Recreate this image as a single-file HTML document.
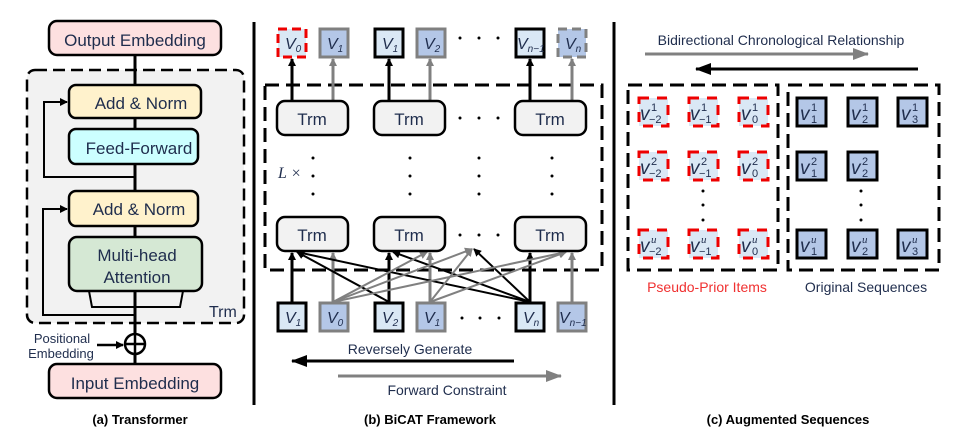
<!DOCTYPE html><html><head><meta charset="utf-8"><style>body{margin:0;background:#fff}svg{display:block}text{font-family:"Liberation Sans",sans-serif}.m{font-family:"Liberation Serif",serif;font-style:italic}</style></head><body>
<svg width="958" height="446" viewBox="0 0 958 446" xmlns="http://www.w3.org/2000/svg">
<defs>
<marker id="ab" markerWidth="8" markerHeight="8" refX="7" refY="4" orient="auto" markerUnits="userSpaceOnUse"><path d="M0,0L8,4L0,8z" fill="#000"/></marker>
<marker id="ag" markerWidth="8" markerHeight="8" refX="7" refY="4" orient="auto" markerUnits="userSpaceOnUse"><path d="M0,0L8,4L0,8z" fill="#808080"/></marker>
<marker id="abl" markerWidth="16" markerHeight="12" refX="15" refY="6" orient="auto" markerUnits="userSpaceOnUse"><path d="M0,0L16,6L0,12z" fill="#000"/></marker>
<marker id="agl" markerWidth="16" markerHeight="12" refX="15" refY="6" orient="auto" markerUnits="userSpaceOnUse"><path d="M0,0L16,6L0,12z" fill="#808080"/></marker>
</defs>
<!-- Panel a -->
<rect x="27" y="70" width="217" height="253" rx="8" fill="#f2f2f2" stroke="#000" stroke-width="2.5" stroke-dasharray="12,6"/>
<line x1="135" y1="55" x2="135" y2="364" stroke="#000" stroke-width="3"/>
<rect x="49" y="21" width="172" height="34" rx="8" fill="#fde0e0" stroke="#000" stroke-width="2.5"/>
<text x="135" y="46" font-size="17" text-anchor="middle" fill="#1f2d4d">Output Embedding</text>
<polyline points="135,177 44,177 44,102 67,102" fill="none" stroke="#000" stroke-width="2" marker-end="url(#ab)"/>
<polyline points="135,315 43,315 43,209 67,209" fill="none" stroke="#000" stroke-width="2" marker-end="url(#ab)"/>
<rect x="69" y="85" width="132" height="33" rx="7" fill="#fff2cc" stroke="#000" stroke-width="2.5"/>
<text x="141" y="109" font-size="17" text-anchor="middle" fill="#1f2d4d">Add &amp; Norm</text>
<rect x="69" y="129" width="129" height="35" rx="7" fill="#ccffff" stroke="#000" stroke-width="2.5"/>
<text x="139" y="154" font-size="17" text-anchor="middle" fill="#1f2d4d">Feed-Forward</text>
<rect x="69" y="191" width="129" height="35" rx="7" fill="#fff2cc" stroke="#000" stroke-width="2.5"/>
<text x="139" y="215" font-size="17" text-anchor="middle" fill="#1f2d4d">Add &amp; Norm</text>
<path d="M89,291 L92,307 L180,307 L183,291" fill="none" stroke="#000" stroke-width="2"/>
<rect x="69" y="237" width="133" height="54" rx="8" fill="#d5e8d4" stroke="#000" stroke-width="2.5"/>
<text x="137" y="261" font-size="17" text-anchor="middle" fill="#1f2d4d">Multi-head</text>
<text x="137" y="283" font-size="17" text-anchor="middle" fill="#1f2d4d">Attention</text>
<text x="209" y="317" font-size="16" fill="#1f2d4d">Trm</text>
<circle cx="135" cy="344" r="10" fill="#fff" stroke="#000" stroke-width="2.5"/>
<line x1="125" y1="344" x2="145" y2="344" stroke="#000" stroke-width="2.5"/>
<line x1="135" y1="334" x2="135" y2="354" stroke="#000" stroke-width="2.5"/>
<line x1="97" y1="345" x2="123" y2="345" stroke="#000" stroke-width="2.5" marker-end="url(#ab)"/>
<text x="62" y="343" font-size="13" text-anchor="middle" fill="#1f2d4d">Positional</text>
<text x="61" y="358" font-size="13" text-anchor="middle" fill="#1f2d4d">Embedding</text>
<rect x="49" y="364" width="172" height="34" rx="8" fill="#fde0e0" stroke="#000" stroke-width="2.5"/>
<text x="135" y="389" font-size="17" text-anchor="middle" fill="#1f2d4d">Input Embedding</text>
<text x="140" y="424" font-size="13" font-weight="bold" text-anchor="middle">(a) Transformer</text>
<line x1="254" y1="22" x2="254" y2="405" stroke="#000" stroke-width="3"/>
<line x1="614" y1="22" x2="614" y2="405" stroke="#000" stroke-width="3"/>
<!-- Panel b -->
<rect x="265" y="85" width="337" height="185" fill="none" stroke="#000" stroke-width="3" stroke-dasharray="14,7"/>
<g stroke-width="3">
<line x1="292" y1="101" x2="292" y2="59" stroke="#000" marker-end="url(#ab)"/>
<line x1="333" y1="101" x2="333" y2="59" stroke="#808080" marker-end="url(#ag)"/>
<line x1="389" y1="101" x2="389" y2="59" stroke="#000" marker-end="url(#ab)"/>
<line x1="430" y1="101" x2="430" y2="59" stroke="#808080" marker-end="url(#ag)"/>
<line x1="530" y1="101" x2="530" y2="59" stroke="#000" marker-end="url(#ab)"/>
<line x1="572" y1="101" x2="572" y2="59" stroke="#808080" marker-end="url(#ag)"/>
<line x1="292" y1="302" x2="292" y2="253" stroke="#000" marker-end="url(#ab)"/>
<line x1="333" y1="302" x2="333" y2="253" stroke="#808080" marker-end="url(#ag)"/>
<line x1="389" y1="302" x2="389" y2="253" stroke="#000" marker-end="url(#ab)"/>
<line x1="430" y1="302" x2="430" y2="253" stroke="#808080" marker-end="url(#ag)"/>
<line x1="530" y1="302" x2="530" y2="253" stroke="#000" marker-end="url(#ab)"/>
<line x1="572" y1="302" x2="572" y2="253" stroke="#808080" marker-end="url(#ag)"/>
</g>
<g stroke-width="2">
<line x1="389" y1="302" x2="297" y2="252" stroke="#000" marker-end="url(#ab)"/>
<line x1="530" y1="302" x2="297" y2="252" stroke="#000" marker-end="url(#ab)"/>
<line x1="530" y1="302" x2="393" y2="252" stroke="#000" marker-end="url(#ab)"/>
<line x1="530" y1="302" x2="474" y2="249" stroke="#000" marker-end="url(#ab)"/>
<line x1="333" y1="302" x2="427" y2="252" stroke="#808080" marker-end="url(#ag)"/>
<line x1="333" y1="302" x2="472" y2="249" stroke="#808080" marker-end="url(#ag)"/>
<line x1="333" y1="302" x2="566" y2="252" stroke="#808080" marker-end="url(#ag)"/>
<line x1="430" y1="302" x2="472" y2="249" stroke="#808080" marker-end="url(#ag)"/>
<line x1="430" y1="302" x2="566" y2="252" stroke="#808080" marker-end="url(#ag)"/>
</g>
<g fill="#f2f2f2" stroke="#000" stroke-width="2.5">
<rect x="277" y="101" width="71" height="34" rx="8"/><rect x="374" y="101" width="71" height="34" rx="8"/><rect x="515" y="101" width="71" height="34" rx="8"/>
<rect x="277" y="217" width="71" height="34" rx="8"/><rect x="374" y="217" width="71" height="34" rx="8"/><rect x="515" y="217" width="71" height="34" rx="8"/>
</g>
<g font-size="17" text-anchor="middle" fill="#1f2d4d">
<text x="312" y="125">Trm</text><text x="409" y="125">Trm</text><text x="550" y="125">Trm</text>
<text x="312" y="241">Trm</text><text x="409" y="241">Trm</text><text x="550" y="241">Trm</text>
</g>
<g fill="#000">
<circle cx="460" cy="38" r="1.5"/><circle cx="479" cy="38" r="1.5"/><circle cx="498" cy="38" r="1.5"/>
<circle cx="460" cy="118" r="1.5"/><circle cx="479" cy="118" r="1.5"/><circle cx="498" cy="118" r="1.5"/>
<circle cx="460" cy="235" r="1.5"/><circle cx="479" cy="235" r="1.5"/><circle cx="498" cy="235" r="1.5"/>
<circle cx="462" cy="318" r="1.5"/><circle cx="480" cy="318" r="1.5"/><circle cx="499" cy="318" r="1.5"/>
<circle cx="313" cy="158" r="1.5"/><circle cx="313" cy="176" r="1.5"/><circle cx="313" cy="194" r="1.5"/>
<circle cx="410" cy="158" r="1.5"/><circle cx="410" cy="176" r="1.5"/><circle cx="410" cy="194" r="1.5"/>
<circle cx="479" cy="158" r="1.5"/><circle cx="479" cy="176" r="1.5"/><circle cx="479" cy="194" r="1.5"/>
<circle cx="552" cy="158" r="1.5"/><circle cx="552" cy="176" r="1.5"/><circle cx="552" cy="194" r="1.5"/>
</g>
<text x="278" y="178" class="m" font-size="16" fill="#1f2d4d">L ×</text>
<rect x="278" y="29" width="28" height="28" fill="#dae8f5" stroke="#e00" stroke-width="3" stroke-dasharray="9,5"/>
<rect x="320" y="29" width="28" height="28" fill="#b4c7e7" stroke="#808080" stroke-width="3"/>
<rect x="375" y="29" width="28" height="28" fill="#dae8f5" stroke="#000" stroke-width="3"/>
<rect x="417" y="29" width="28" height="28" fill="#b4c7e7" stroke="#808080" stroke-width="3"/>
<rect x="516" y="29" width="28" height="28" fill="#dae8f5" stroke="#000" stroke-width="3"/>
<rect x="558" y="29" width="28" height="28" fill="#b4c7e7" stroke="#808080" stroke-width="3" stroke-dasharray="9,5"/>
<rect x="278" y="303" width="28" height="28" fill="#dae8f5" stroke="#000" stroke-width="3"/>
<rect x="320" y="303" width="28" height="28" fill="#b4c7e7" stroke="#808080" stroke-width="3"/>
<rect x="375" y="303" width="28" height="28" fill="#dae8f5" stroke="#000" stroke-width="3"/>
<rect x="417" y="303" width="28" height="28" fill="#b4c7e7" stroke="#808080" stroke-width="3"/>
<rect x="516" y="303" width="28" height="28" fill="#dae8f5" stroke="#000" stroke-width="3"/>
<rect x="558" y="303" width="28" height="28" fill="#b4c7e7" stroke="#808080" stroke-width="3"/>
<g class="m" font-size="16" fill="#1f2d4d">
<text x="285" y="49">V<tspan font-size="10" dy="3">0</tspan></text>
<text x="327" y="49">V<tspan font-size="10" dy="3">1</tspan></text>
<text x="382" y="49">V<tspan font-size="10" dy="3">1</tspan></text>
<text x="424" y="49">V<tspan font-size="10" dy="3">2</tspan></text>
<text x="517" y="49">V<tspan font-size="10" dy="3">n−1</tspan></text>
<text x="565" y="49">V<tspan font-size="10" dy="3">n</tspan></text>
<text x="285" y="323">V<tspan font-size="10" dy="3">1</tspan></text>
<text x="327" y="323">V<tspan font-size="10" dy="3">0</tspan></text>
<text x="382" y="323">V<tspan font-size="10" dy="3">2</tspan></text>
<text x="424" y="323">V<tspan font-size="10" dy="3">1</tspan></text>
<text x="523" y="323">V<tspan font-size="10" dy="3">n</tspan></text>
<text x="559" y="323">V<tspan font-size="10" dy="3">n−1</tspan></text>
</g>
<text x="410" y="354" font-size="14" text-anchor="middle" fill="#1f2d4d">Reversely Generate</text>
<line x1="514" y1="361" x2="292" y2="361" stroke="#000" stroke-width="3" marker-end="url(#abl)"/>
<line x1="338" y1="376" x2="561" y2="376" stroke="#808080" stroke-width="3" marker-end="url(#agl)"/>
<text x="447" y="395" font-size="14" text-anchor="middle" fill="#1f2d4d">Forward Constraint</text>
<text x="430" y="424" font-size="13" font-weight="bold" text-anchor="middle">(b) BiCAT Framework</text>
<!-- Panel c -->
<text x="781" y="45" font-size="14" text-anchor="middle" fill="#1f2d4d">Bidirectional Chronological Relationship</text>
<line x1="645" y1="54" x2="868" y2="54" stroke="#808080" stroke-width="3" marker-end="url(#agl)"/>
<line x1="918" y1="69" x2="696" y2="69" stroke="#000" stroke-width="3" marker-end="url(#abl)"/>
<rect x="628" y="85" width="150" height="185" fill="none" stroke="#000" stroke-width="3" stroke-dasharray="14,7"/>
<rect x="788" y="85" width="151" height="185" fill="none" stroke="#000" stroke-width="3" stroke-dasharray="14,7"/>
<g fill="#dae8f5" stroke="#e00" stroke-width="3" stroke-dasharray="10,8">
<rect x="639" y="98" width="29" height="28"/><rect x="689" y="98" width="29" height="28"/><rect x="739" y="98" width="29" height="28"/>
<rect x="639" y="152" width="29" height="28"/><rect x="689" y="152" width="29" height="28"/><rect x="739" y="152" width="29" height="28"/>
<rect x="639" y="230" width="29" height="28"/><rect x="689" y="230" width="29" height="28"/><rect x="739" y="230" width="29" height="28"/>
</g>
<g fill="#b4c7e7" stroke="#000" stroke-width="3">
<rect x="797" y="98" width="29" height="28"/><rect x="848" y="98" width="29" height="28"/><rect x="898" y="98" width="29" height="28"/>
<rect x="797" y="152" width="29" height="28"/><rect x="848" y="152" width="29" height="28"/>
<rect x="797" y="230" width="29" height="28"/><rect x="848" y="230" width="29" height="28"/><rect x="898" y="230" width="29" height="28"/>
</g>
<g fill="#000"><circle cx="703" cy="191" r="1.5"/><circle cx="703" cy="205" r="1.5"/><circle cx="703" cy="220" r="1.5"/>
<circle cx="861" cy="191" r="1.5"/><circle cx="861" cy="205" r="1.5"/><circle cx="861" cy="220" r="1.5"/></g>
<g class="m" font-size="19" fill="#1f2d4d">
<text x="640" y="120">v</text><text x="690" y="120">v</text><text x="741" y="120">v</text>
<text x="640" y="174">v</text><text x="690" y="174">v</text><text x="741" y="174">v</text>
<text x="640" y="252">v</text><text x="690" y="252">v</text><text x="741" y="252">v</text>
<text x="800" y="120">v</text><text x="851" y="120">v</text><text x="901" y="120">v</text>
<text x="800" y="174">v</text><text x="851" y="174">v</text>
<text x="800" y="252">v</text><text x="851" y="252">v</text><text x="901" y="252">v</text>
</g>
<g font-family="Liberation Sans,sans-serif" font-size="11" fill="#1f2d4d">
<text x="651" y="111">1</text><text x="649" y="123">−2</text>
<text x="701" y="111">1</text><text x="699" y="123">−1</text>
<text x="752" y="111">1</text><text x="752" y="123">0</text>
<text x="651" y="165">2</text><text x="649" y="177">−2</text>
<text x="701" y="165">2</text><text x="699" y="177">−1</text>
<text x="752" y="165">2</text><text x="752" y="177">0</text>
<text x="651" y="243" class="m">u</text><text x="649" y="255">−2</text>
<text x="701" y="243" class="m">u</text><text x="699" y="255">−1</text>
<text x="752" y="243" class="m">u</text><text x="752" y="255">0</text>
<text x="811" y="111">1</text><text x="811" y="123">1</text>
<text x="862" y="111">1</text><text x="862" y="123">2</text>
<text x="912" y="111">1</text><text x="912" y="123">3</text>
<text x="811" y="165">2</text><text x="811" y="177">1</text>
<text x="862" y="165">2</text><text x="862" y="177">2</text>
<text x="811" y="243" class="m">u</text><text x="811" y="255">1</text>
<text x="862" y="243" class="m">u</text><text x="862" y="255">2</text>
<text x="912" y="243" class="m">u</text><text x="912" y="255">3</text>
</g>
<text x="707" y="292" font-size="14" text-anchor="middle" fill="#f03030">Pseudo-Prior Items</text>
<text x="866" y="292" font-size="14" text-anchor="middle" fill="#1f2d4d">Original Sequences</text>
<text x="788" y="424" font-size="13" font-weight="bold" text-anchor="middle">(c) Augmented Sequences</text>
</svg>
</body></html>
